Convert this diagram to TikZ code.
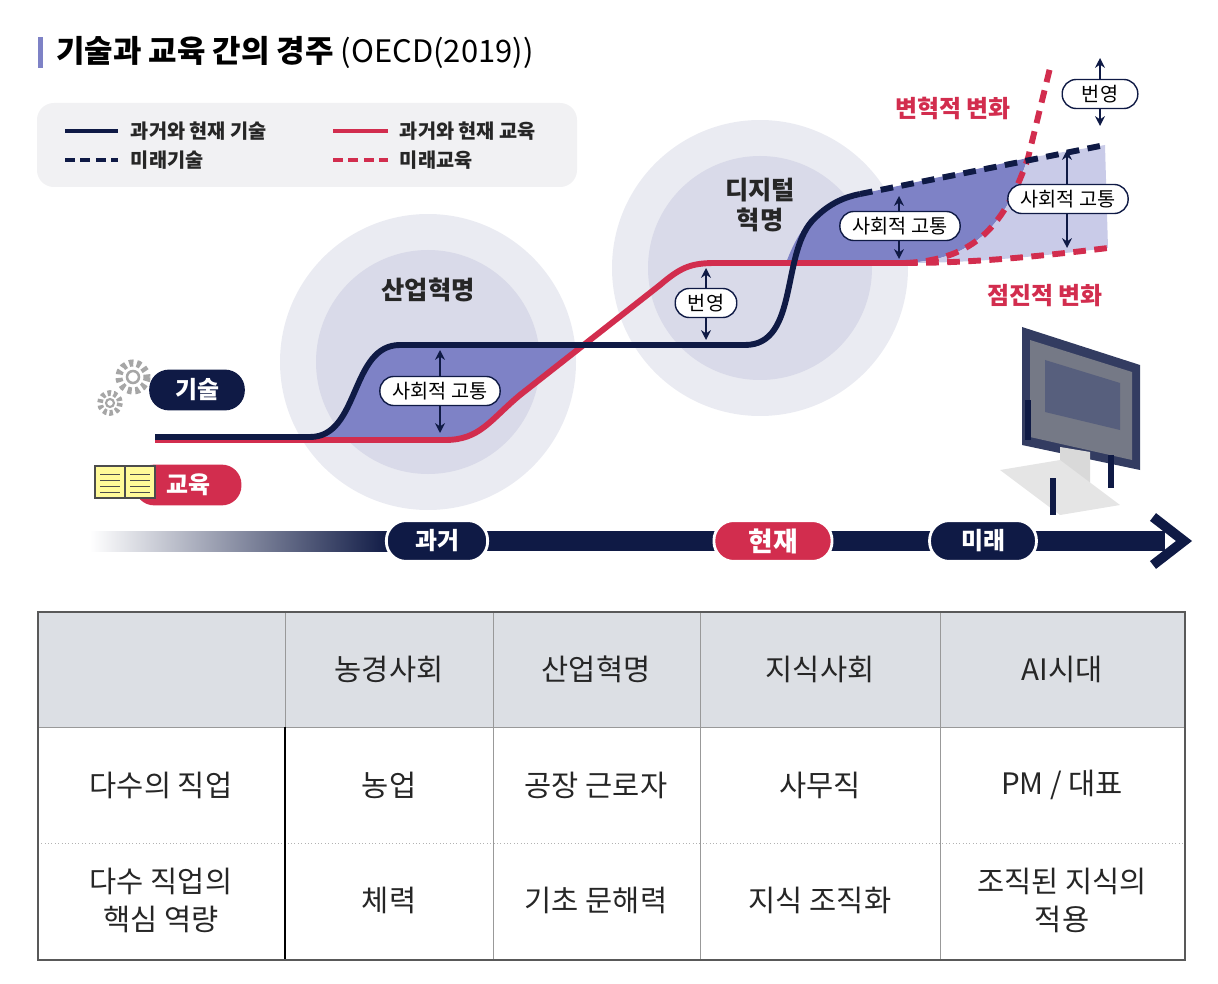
\documentclass[tikz,border=0pt]{standalone}
\usepackage{fontspec}
\setmainfont{Noto Sans CJK KR}
\usepackage{tikz}
\usetikzlibrary{arrows.meta}
\definecolor{navy}{HTML}{0F1A45}
\definecolor{rred}{HTML}{D22D4E}
\definecolor{pur}{HTML}{7E82C6}
\definecolor{lpur}{HTML}{C9CBE8}
\definecolor{ring}{HTML}{EAEBF2}
\definecolor{ringin}{HTML}{D9DAE9}
\definecolor{hdr}{HTML}{DCDFE4}
\definecolor{lgbg}{HTML}{F1F1F3}
\begin{document}
\begin{tikzpicture}[x=0.025cm,y=-0.025cm]
  \tikzstyle{tech} = [draw=navy,line width=4.2pt]
  \tikzstyle{edu} = [draw=rred,line width=4.2pt]
  \tikzstyle{fut} = [dash pattern=on 9pt off 6pt]
  \tikzstyle{dbl} = [draw=navy,line width=1.6pt,{Stealth[length=7pt,width=7pt]}-{Stealth[length=7pt,width=7pt]}]
  \tikzstyle{tag} = [draw=navy,line width=1pt,fill=white,rounded corners=10pt,inner xsep=9pt,inner ysep=4pt,font=\fontsize{14}{16}\selectfont]
  \tikzstyle{pill} = [rounded corners=14pt,text=white,font=\bfseries\fontsize{17}{19}\selectfont,inner xsep=14pt,minimum height=29pt]
  \tikzstyle{cell} = [font=\fontsize{21}{27}\selectfont,text=black!85,align=center]
  \useasboundingbox (0,0) rectangle (1218,984);
  %%
  %% title and legend
  \fill[pur] (38,37) rectangle (43,68);
  \node[anchor=west,inner sep=0pt] (title) at (56,52)
    {\fontsize{22}{24}\selectfont\bfseries 기술과 교육 간의 경주 \mdseries(OECD(2019))};
  \fill[lgbg,rounded corners=12pt] (37,103) rectangle (577,187);
  \coordinate (l1a) at (65,131); \coordinate (l1b) at (118,131);
  \coordinate (l2a) at (65,160); \coordinate (l2b) at (118,160);
  \coordinate (l3a) at (333,131); \coordinate (l3b) at (388,131);
  \coordinate (l4a) at (333,160); \coordinate (l4b) at (388,160);
  \draw[navy,line width=3pt] (l1a) -- (l1b);
  \draw[navy,line width=3pt,dash pattern=on 7pt off 4pt] (l2a) -- (l2b);
  \draw[rred,line width=3pt] (l3a) -- (l3b);
  \draw[rred,line width=3pt,dash pattern=on 7pt off 4pt] (l4a) -- (l4b);
  \tikzstyle{every node}=[font=\bfseries\fontsize{14}{16}\selectfont,text=black!85]
  \node[anchor=west] (t1) at (126,131) {과거와 현재 기술};
  \node[anchor=west] (t2) at (126,160) {미래기술};
  \node[anchor=west] (t3) at (395,131) {과거와 현재 교육};
  \node[anchor=west] (t4) at (395,160) {미래교육};
  \tikzstyle{every node}=[]
  %%
  %% circles
  \fill[ring] (428,362) circle (148);
  \fill[ringin] (428,362) circle (112);
  \fill[ring] (760,268) circle (148);
  \fill[ringin] (760,268) circle (112);
  \node[font=\bfseries\fontsize{18}{20}\selectfont,text=black!85] (ind) at (428,290) {산업혁명};
  \node[font=\bfseries\fontsize{18}{21}\selectfont,text=black!85,align=center] (dig) at (760,205) {디지털\\혁명};
  %%
  %% fills between curves
  \fill[pur] (310,437) .. controls (360,437) and (350,345) .. (400,345) -- (584,345)
    -- (520,395) .. controls (490,420) and (480,440) .. (445,440) -- cycle;
  \fill[pur] (786,263) .. controls (800,225) and (820,200) .. (870,192) -- (1028,158)
    .. controls (1005,225) and (975,260) .. (905,263) -- cycle;
  \fill[lpur] (1028,158) -- (1105,145) -- (1108,248) .. controls (1050,255) and (980,263) .. (905,263)
    .. controls (975,260) and (1005,225) .. (1028,158) -- cycle;
  %%
  %% curves
  \draw[edu] (155,440) -- (445,440) .. controls (480,440) and (490,420) .. (520,395)
    -- (660,285) .. controls (680,268) and (690,263) .. (715,263) -- (905,263);
  \draw[edu,fut] (905,263) .. controls (975,260) and (1005,225) .. (1028,158) -- (1050,68);
  \draw[edu,fut] (905,263) .. controls (980,263) and (1050,255) .. (1108,248);
  \draw[tech] (155,437) -- (310,437) .. controls (360,437) and (350,345) .. (400,345)
    -- (745,345) .. controls (800,345) and (780,250) .. (815,218) .. controls (830,203) and (845,197) .. (860,194);
  \draw[tech,fut] (860,194) -- (1105,145);
  %%
  %% arrows and tags
  \coordinate (a1t) at (440,350); \coordinate (a1b) at (440,433);
  \coordinate (a2t) at (706,268); \coordinate (a2b) at (706,340);
  \coordinate (a3t) at (899,196); \coordinate (a3b) at (899,259);
  \coordinate (a4t) at (1067,150); \coordinate (a4b) at (1067,248);
  \coordinate (a5t) at (1100,58); \coordinate (a5b) at (1100,126);
  \draw[dbl] (a1t) -- (a1b); \draw[dbl] (a2t) -- (a2b); \draw[dbl] (a3t) -- (a3b);
  \draw[dbl] (a4t) -- (a4b); \draw[dbl] (a5t) -- (a5b);
  \node[tag] (g1) at (440,391) {사회적 고통};
  \node[tag] (p1) at (706,303) {번영};
  \node[tag] (g2) at (900,226) {사회적 고통};
  \node[tag] (g3) at (1068,199) {사회적 고통};
  \node[tag,inner xsep=14pt] (p2) at (1100,94) {번영};
  \node[font=\bfseries\fontsize{17}{19}\selectfont,text=rred] (rev) at (953,108) {변혁적 변화};
  \node[font=\bfseries\fontsize{17}{19}\selectfont,text=rred] (grad) at (1045,296) {점진적 변화};
  %%
  %% left labels and icons
  \node[pill,fill=navy,minimum width=68pt] (tl) at (197,390) {기술};
  \node[pill,fill=rred,minimum width=76pt] (el) at (188,485) {교육};
  \draw[gray!70,line width=5pt,dash pattern=on 3pt off 2.5pt,fill=white] (133,377) circle (14);
  \draw[gray!70,line width=1.8pt,fill=white] (133,377) circle (6);
  \draw[gray!70,line width=4pt,dash pattern=on 2.5pt off 2pt,fill=white] (110,403) circle (10);
  \draw[gray!70,line width=1.5pt] (110,403) circle (4);
  \draw[gray!60!black,line width=1.2pt,fill=yellow!40!white] (95,466) rectangle (125,498);
  \draw[gray!60!black,line width=1.2pt,fill=yellow!40!white] (125,466) rectangle (155,498);
  \foreach \y in {474,480,486,492} {
    \draw[gray!60!black] (100,\y) -- (120,\y);
    \draw[gray!60!black] (130,\y) -- (150,\y);
  }
  %%
  %% computer
  \fill[navy!85] (1022,327) -- (1140,365) -- (1140,470) -- (1022,445) -- cycle;
  \fill[navy!40!gray!80] (1030,340) -- (1132,372) -- (1132,460) -- (1030,437) -- cycle;
  \fill[navy!70] (1045,360) -- (1120,383) -- (1120,430) -- (1045,412) -- cycle;
  \fill[gray!30] (1060,447) -- (1090,452) -- (1090,490) -- (1060,486) -- cycle;
  \fill[gray!20] (1000,470) -- (1060,460) -- (1120,505) -- (1060,515) -- cycle;
  \fill[navy] (1025,400) rectangle (1031,440);
  \fill[navy] (1108,455) rectangle (1114,488);
  \fill[navy] (1050,478) rectangle (1056,515);
  %%
  %% timeline
  \shade[left color=white,right color=navy] (90,531) rectangle (390,551);
  \fill[navy] (388,531) rectangle (1165,551);
  \coordinate (hd1) at (1153,517); \coordinate (hd2) at (1184,541); \coordinate (hd3) at (1153,565);
  \draw[navy,line width=7pt,line join=miter] (hd1) -- (hd2) -- (hd3);
  \node[pill,fill=navy,draw=white,line width=2pt,minimum width=72pt] (past) at (437,541) {과거};
  \node[pill,fill=rred,draw=white,line width=2pt,minimum width=84pt,font=\bfseries\fontsize{19}{21}\selectfont] (now) at (773,541) {현재};
  \node[pill,fill=navy,draw=white,line width=2pt,minimum width=76pt] (fut) at (983,541) {미래};
  %%
  %% table
  \fill[hdr] (38,612) rectangle (1185,727);
  \draw[gray!80] (38,727) -- (1185,727);
  \draw[gray!60,dotted] (38,843) -- (1185,843);
  \foreach \x in {493,700,940} \draw[gray!80] (\x,612) -- (\x,960);
  \draw[gray!80] (285,612) -- (285,727);
  \draw[black,line width=1.2pt] (285,727) -- (285,960);
  \draw[gray!70!black,line width=2pt] (38,612) rectangle (1185,960);
  \node[cell] (h1) at (389,669) {농경사회};
  \node[cell] (h2) at (596,669) {산업혁명};
  \node[cell] (h3) at (820,669) {지식사회};
  \node[cell] (h4) at (1062,669) {AI시대};
  \node[cell] (r1) at (161,785) {다수의 직업};
  \node[cell] (c11) at (389,785) {농업};
  \node[cell] (c12) at (596,785) {공장 근로자};
  \node[cell] (c13) at (820,785) {사무직};
  \node[cell] (c14) at (1062,785) {PM / 대표};
  \node[cell] (r2) at (161,900) {다수 직업의\\핵심 역량};
  \node[cell] (c21) at (389,900) {체력};
  \node[cell] (c22) at (596,900) {기초 문해력};
  \node[cell] (c23) at (820,900) {지식 조직화};
  \node[cell] (c24) at (1062,900) {조직된 지식의\\적용};
\end{tikzpicture}
\end{document}
